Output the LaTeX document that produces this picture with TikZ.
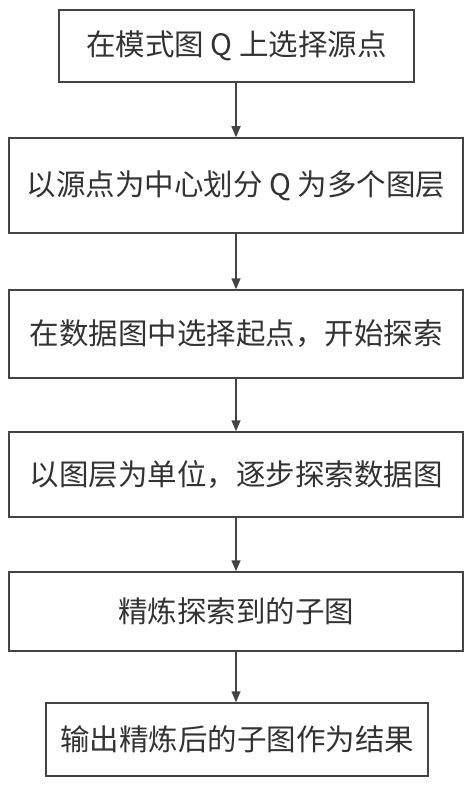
\documentclass[tikz,border=0pt]{standalone}
\usepackage{fontspec}
\setmainfont{Noto Sans CJK SC}
\usetikzlibrary{arrows.meta}
\definecolor{linec}{HTML}{444444}
\definecolor{textc}{HTML}{333333}
\begin{document}
\begin{tikzpicture}[x=1pt,y=-1pt,
  stepbox/.style={draw=linec,line width=1.5pt,rectangle,inner sep=0pt,
    text=textc,font=\fontsize{29.5}{33}\selectfont},
  flow/.style={draw=linec,line width=1.5pt,-{Triangle[length=11pt,width=9pt]}}]
\useasboundingbox (0,0) rectangle (474,786);
\node[stepbox,minimum width=355pt,minimum height=72pt] (b1) at (236.5,46) {在模式图 Q 上选择源点};
\node[stepbox,minimum width=454pt,minimum height=95pt] (b2) at (236,185.5) {以源点为中心划分 Q 为多个图层};
\node[stepbox,minimum width=454pt,minimum height=88pt] (b3) at (236,334) {在数据图中选择起点，开始探索};
\node[stepbox,minimum width=454pt,minimum height=85pt] (b4) at (236,474.5) {以图层为单位，逐步探索数据图};
\node[stepbox,minimum width=454pt,minimum height=79pt] (b5) at (236,611.5) {精炼探索到的子图};
\node[stepbox,minimum width=382pt,minimum height=73pt] (b6) at (237,739.5) {输出精炼后的子图作为结果};
\draw[flow] (b1.south -| 236,0) -- (b2.north -| 236,0);
\draw[flow] (b2) -- (b3);
\draw[flow] (b3) -- (b4);
\draw[flow] (b4) -- (b5);
\draw[flow] (b5.south -| 236,0) -- (b6.north -| 236,0);
\end{tikzpicture}
\end{document}
